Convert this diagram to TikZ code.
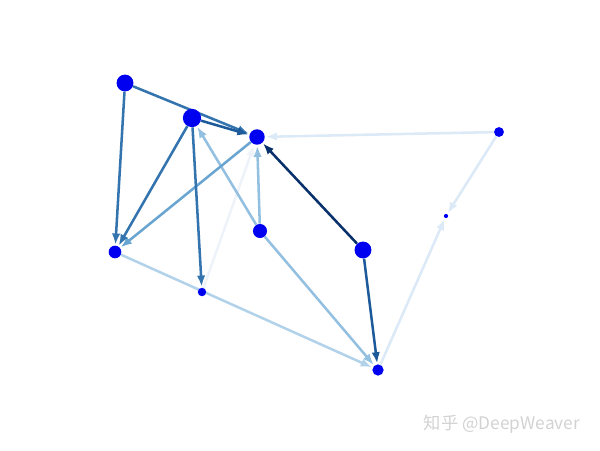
\documentclass[tikz,border=0pt]{standalone}
\usepackage{fontspec}
\newfontfamily\cjk{Noto Sans CJK SC}
\usetikzlibrary{arrows.meta}
\usetikzlibrary{backgrounds}
\definecolor{bluesA}{HTML}{08306B}
\definecolor{bluesB}{HTML}{1C5A9A}
\definecolor{bluesC}{HTML}{3474AE}
\definecolor{bluesD}{HTML}{6AA5D2}
\definecolor{bluesE}{HTML}{93C0E0}
\definecolor{bluesF}{HTML}{B2D2EA}
\definecolor{bluesG}{HTML}{DCE9F6}
\definecolor{bluesH}{HTML}{EEF3FA}
\definecolor{vertex}{HTML}{0000F0}

\begin{document}
\begin{tikzpicture}[x=0.025cm,y=-0.025cm,
    vtx/.style={circle,fill=vertex,inner sep=0pt,minimum size=#1},
    edge/.style={-{Latex[length=8pt,width=6pt]},line width=1.8pt,draw=#1,shorten >=0.5pt}]
    \useasboundingbox (0,0) rectangle (600,450);
    % vertices
    \node[vtx=12pt] (a) at (125,83) {};
    \node[vtx=13pt] (b) at (192,118) {};
    \node[vtx=11pt] (c) at (257,137) {};
    \node[vtx=7pt] (d) at (499,132) {};
    \node[vtx=3pt] (e) at (446,216) {};
    \node[vtx=9pt] (f) at (115,252) {};
    \node[vtx=10pt] (g) at (260,231) {};
    \node[vtx=12pt] (h) at (363,250) {};
    \node[vtx=6pt] (i) at (202,292) {};
    \node[vtx=8pt] (j) at (378,370) {};
    % edges, faint ones first, kept under the vertices
    \begin{scope}[on background layer]
    \draw[edge=bluesH] (i) -- (c);
    \draw[edge=bluesG] (d) -- (c);
    \draw[edge=bluesG] (d) -- (e);
    \draw[edge=bluesG] (j) -- (e);
    \draw[edge=bluesF] (f) -- (j);
    \draw[edge=bluesE] (g) -- (j);
    \draw[edge=bluesE] (g) -- (b);
    \draw[edge=bluesE] (g) -- (c);
    \draw[edge=bluesD] (c) -- (f);
    \draw[edge=bluesC] (a) -- (c);
    \draw[edge=bluesC] (a) -- (f);
    \draw[edge=bluesC] (b) -- (f);
    \draw[edge=bluesC] (b) -- (i);
    \draw[edge=bluesB] (b) -- (c);
    \draw[edge=bluesB] (h) -- (j);
    \draw[edge=bluesA] (h) -- (c);
    \end{scope}
    \node[text=gray!35,font=\cjk\fontsize{12.3}{14}\selectfont,anchor=east] (mark) at (585,424) {知乎 @DeepWeaver};
\end{tikzpicture}
\end{document}
